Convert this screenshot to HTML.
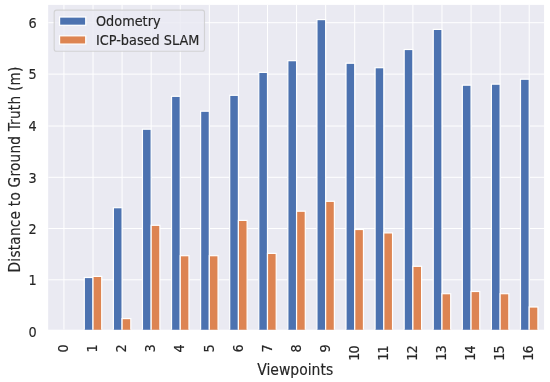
<!DOCTYPE html>
<html><head><meta charset="utf-8"><title>Distance to Ground Truth</title>
<style>html,body{margin:0;padding:0;background:#fff;overflow:hidden}text{stroke:#262626;stroke-width:.15px}</style></head>
<body>
<svg width="550" height="382" viewBox="0 0 550 382" style="display:block;font-family:'DejaVu Sans Condensed','DejaVu Sans','Liberation Sans',sans-serif;font-stretch:condensed">
<defs><clipPath id="ax"><rect x="48.18" y="4.9" width="495.89" height="324.80"/></clipPath></defs>
<rect width="550" height="382" fill="#fff"/>
<rect x="48.18" y="4.9" width="495.89" height="324.80" fill="#eaeaf2"/>
<g clip-path="url(#ax)">
<line x1="63.93" x2="63.93" y1="4.9" y2="329.7" stroke="#fff" stroke-width="1.0"/>
<line x1="93.01" x2="93.01" y1="4.9" y2="329.7" stroke="#fff" stroke-width="1.0"/>
<line x1="122.09" x2="122.09" y1="4.9" y2="329.7" stroke="#fff" stroke-width="1.0"/>
<line x1="151.17" x2="151.17" y1="4.9" y2="329.7" stroke="#fff" stroke-width="1.0"/>
<line x1="180.25" x2="180.25" y1="4.9" y2="329.7" stroke="#fff" stroke-width="1.0"/>
<line x1="209.33" x2="209.33" y1="4.9" y2="329.7" stroke="#fff" stroke-width="1.0"/>
<line x1="238.41" x2="238.41" y1="4.9" y2="329.7" stroke="#fff" stroke-width="1.0"/>
<line x1="267.49" x2="267.49" y1="4.9" y2="329.7" stroke="#fff" stroke-width="1.0"/>
<line x1="296.57" x2="296.57" y1="4.9" y2="329.7" stroke="#fff" stroke-width="1.0"/>
<line x1="325.65" x2="325.65" y1="4.9" y2="329.7" stroke="#fff" stroke-width="1.0"/>
<line x1="354.73" x2="354.73" y1="4.9" y2="329.7" stroke="#fff" stroke-width="1.0"/>
<line x1="383.81" x2="383.81" y1="4.9" y2="329.7" stroke="#fff" stroke-width="1.0"/>
<line x1="412.89" x2="412.89" y1="4.9" y2="329.7" stroke="#fff" stroke-width="1.0"/>
<line x1="441.97" x2="441.97" y1="4.9" y2="329.7" stroke="#fff" stroke-width="1.0"/>
<line x1="471.05" x2="471.05" y1="4.9" y2="329.7" stroke="#fff" stroke-width="1.0"/>
<line x1="500.13" x2="500.13" y1="4.9" y2="329.7" stroke="#fff" stroke-width="1.0"/>
<line x1="529.21" x2="529.21" y1="4.9" y2="329.7" stroke="#fff" stroke-width="1.0"/>
<line x1="48.18" x2="544.07" y1="331.30" y2="331.30" stroke="#fff" stroke-width="1.0"/>
<line x1="48.18" x2="544.07" y1="279.80" y2="279.80" stroke="#fff" stroke-width="1.0"/>
<line x1="48.18" x2="544.07" y1="228.50" y2="228.50" stroke="#fff" stroke-width="1.0"/>
<line x1="48.18" x2="544.07" y1="177.30" y2="177.30" stroke="#fff" stroke-width="1.0"/>
<line x1="48.18" x2="544.07" y1="126.00" y2="126.00" stroke="#fff" stroke-width="1.0"/>
<line x1="48.18" x2="544.07" y1="74.10" y2="74.10" stroke="#fff" stroke-width="1.0"/>
<line x1="48.18" x2="544.07" y1="22.70" y2="22.70" stroke="#fff" stroke-width="1.0"/>
<rect x="84.29" y="277.50" width="8.72" height="53.80" fill="#4c72b0" stroke="#fff" stroke-width="1.2"/>
<rect x="93.01" y="276.40" width="8.72" height="54.90" fill="#dd8452" stroke="#fff" stroke-width="1.2"/>
<rect x="113.37" y="207.70" width="8.72" height="123.60" fill="#4c72b0" stroke="#fff" stroke-width="1.2"/>
<rect x="122.09" y="318.60" width="8.72" height="12.70" fill="#dd8452" stroke="#fff" stroke-width="1.2"/>
<rect x="142.45" y="129.20" width="8.72" height="202.10" fill="#4c72b0" stroke="#fff" stroke-width="1.2"/>
<rect x="151.17" y="225.30" width="8.72" height="106.00" fill="#dd8452" stroke="#fff" stroke-width="1.2"/>
<rect x="171.53" y="96.30" width="8.72" height="235.00" fill="#4c72b0" stroke="#fff" stroke-width="1.2"/>
<rect x="180.25" y="255.70" width="8.72" height="75.60" fill="#dd8452" stroke="#fff" stroke-width="1.2"/>
<rect x="200.61" y="111.20" width="8.72" height="220.10" fill="#4c72b0" stroke="#fff" stroke-width="1.2"/>
<rect x="209.33" y="255.70" width="8.72" height="75.60" fill="#dd8452" stroke="#fff" stroke-width="1.2"/>
<rect x="229.69" y="95.30" width="8.72" height="236.00" fill="#4c72b0" stroke="#fff" stroke-width="1.2"/>
<rect x="238.41" y="220.40" width="8.72" height="110.90" fill="#dd8452" stroke="#fff" stroke-width="1.2"/>
<rect x="258.77" y="72.41" width="8.72" height="258.89" fill="#4c72b0" stroke="#fff" stroke-width="1.2"/>
<rect x="267.49" y="253.40" width="8.72" height="77.90" fill="#dd8452" stroke="#fff" stroke-width="1.2"/>
<rect x="287.85" y="60.67" width="8.72" height="270.63" fill="#4c72b0" stroke="#fff" stroke-width="1.2"/>
<rect x="296.57" y="211.20" width="8.72" height="120.10" fill="#dd8452" stroke="#fff" stroke-width="1.2"/>
<rect x="316.93" y="19.60" width="8.72" height="311.70" fill="#4c72b0" stroke="#fff" stroke-width="1.2"/>
<rect x="325.65" y="201.30" width="8.72" height="130.00" fill="#dd8452" stroke="#fff" stroke-width="1.2"/>
<rect x="346.01" y="63.22" width="8.72" height="268.08" fill="#4c72b0" stroke="#fff" stroke-width="1.2"/>
<rect x="354.73" y="229.50" width="8.72" height="101.80" fill="#dd8452" stroke="#fff" stroke-width="1.2"/>
<rect x="375.09" y="67.70" width="8.72" height="263.60" fill="#4c72b0" stroke="#fff" stroke-width="1.2"/>
<rect x="383.81" y="232.90" width="8.72" height="98.40" fill="#dd8452" stroke="#fff" stroke-width="1.2"/>
<rect x="404.17" y="49.50" width="8.72" height="281.80" fill="#4c72b0" stroke="#fff" stroke-width="1.2"/>
<rect x="412.89" y="266.30" width="8.72" height="65.00" fill="#dd8452" stroke="#fff" stroke-width="1.2"/>
<rect x="433.25" y="29.40" width="8.72" height="301.90" fill="#4c72b0" stroke="#fff" stroke-width="1.2"/>
<rect x="441.97" y="293.70" width="8.72" height="37.60" fill="#dd8452" stroke="#fff" stroke-width="1.2"/>
<rect x="462.33" y="85.17" width="8.72" height="246.13" fill="#4c72b0" stroke="#fff" stroke-width="1.2"/>
<rect x="471.05" y="291.50" width="8.72" height="39.80" fill="#dd8452" stroke="#fff" stroke-width="1.2"/>
<rect x="491.41" y="84.15" width="8.72" height="247.15" fill="#4c72b0" stroke="#fff" stroke-width="1.2"/>
<rect x="500.13" y="293.70" width="8.72" height="37.60" fill="#dd8452" stroke="#fff" stroke-width="1.2"/>
<rect x="520.49" y="79.20" width="8.72" height="252.10" fill="#4c72b0" stroke="#fff" stroke-width="1.2"/>
<rect x="529.21" y="307.00" width="8.72" height="24.30" fill="#dd8452" stroke="#fff" stroke-width="1.2"/>
</g>
<text x="36.6" y="336.50" font-size="14.3" fill="#262626" text-anchor="end">0</text>
<text x="36.6" y="285.00" font-size="14.3" fill="#262626" text-anchor="end">1</text>
<text x="36.6" y="233.70" font-size="14.3" fill="#262626" text-anchor="end">2</text>
<text x="36.6" y="182.50" font-size="14.3" fill="#262626" text-anchor="end">3</text>
<text x="36.6" y="131.20" font-size="14.3" fill="#262626" text-anchor="end">4</text>
<text x="36.6" y="79.30" font-size="14.3" fill="#262626" text-anchor="end">5</text>
<text x="36.6" y="27.90" font-size="14.3" fill="#262626" text-anchor="end">6</text>
<text transform="translate(68.13,344.4) rotate(-90)" font-size="14.3" fill="#262626" text-anchor="end">0</text>
<text transform="translate(97.21,344.4) rotate(-90)" font-size="14.3" fill="#262626" text-anchor="end">1</text>
<text transform="translate(126.29,344.4) rotate(-90)" font-size="14.3" fill="#262626" text-anchor="end">2</text>
<text transform="translate(155.37,344.4) rotate(-90)" font-size="14.3" fill="#262626" text-anchor="end">3</text>
<text transform="translate(184.45,344.4) rotate(-90)" font-size="14.3" fill="#262626" text-anchor="end">4</text>
<text transform="translate(213.53,344.4) rotate(-90)" font-size="14.3" fill="#262626" text-anchor="end">5</text>
<text transform="translate(242.61,344.4) rotate(-90)" font-size="14.3" fill="#262626" text-anchor="end">6</text>
<text transform="translate(271.69,344.4) rotate(-90)" font-size="14.3" fill="#262626" text-anchor="end">7</text>
<text transform="translate(300.77,344.4) rotate(-90)" font-size="14.3" fill="#262626" text-anchor="end">8</text>
<text transform="translate(329.85,344.4) rotate(-90)" font-size="14.3" fill="#262626" text-anchor="end">9</text>
<text transform="translate(358.93,346.1) rotate(-90)" font-size="14.3" fill="#262626" text-anchor="end" letter-spacing="-0.9">10</text>
<text transform="translate(388.01,346.1) rotate(-90)" font-size="14.3" fill="#262626" text-anchor="end" letter-spacing="-0.9">11</text>
<text transform="translate(417.09,346.1) rotate(-90)" font-size="14.3" fill="#262626" text-anchor="end" letter-spacing="-0.9">12</text>
<text transform="translate(446.17,346.1) rotate(-90)" font-size="14.3" fill="#262626" text-anchor="end" letter-spacing="-0.9">13</text>
<text transform="translate(475.25,346.1) rotate(-90)" font-size="14.3" fill="#262626" text-anchor="end" letter-spacing="-0.9">14</text>
<text transform="translate(504.33,346.1) rotate(-90)" font-size="14.3" fill="#262626" text-anchor="end" letter-spacing="-0.9">15</text>
<text transform="translate(533.41,346.1) rotate(-90)" font-size="14.3" fill="#262626" text-anchor="end" letter-spacing="-0.9">16</text>
<text x="295.23" y="374.5" font-size="15.5" fill="#262626" text-anchor="middle">Viewpoints</text>
<text transform="translate(19.5,169.40) rotate(-90)" font-size="15.1" letter-spacing="0.28" fill="#262626" text-anchor="middle">Distance to Ground Truth (m)</text>
<rect x="54.2" y="10.1" width="150.3" height="41.2" rx="2.4" ry="2.4" fill="#eaeaf2" fill-opacity="0.8" stroke="#cccccc" stroke-opacity="0.8" stroke-width="1.1"/>
<rect x="59.56" y="17.0" width="26.2" height="8.3" fill="#4c72b0" stroke="#fff" stroke-width="1.25"/>
<rect x="59.56" y="35.8" width="26.2" height="8.3" fill="#dd8452" stroke="#fff" stroke-width="1.25"/>
<text x="96" y="26" font-size="14.3" fill="#262626">Odometry</text>
<text x="96" y="44.9" font-size="14.3" fill="#262626">ICP-based SLAM</text>
</svg>
</body></html>
